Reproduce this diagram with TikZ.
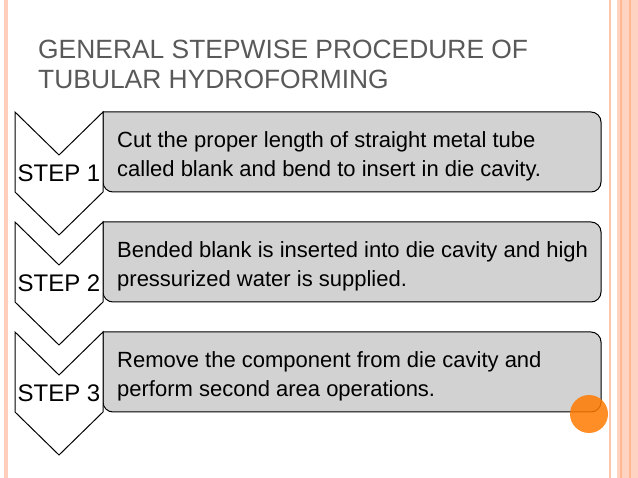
\documentclass[tikz,border=0pt]{standalone}
\usepackage{fontspec}
\setmainfont{Liberation Sans}
\begin{document}
\begin{tikzpicture}[x=1pt,y=-1pt,
  chev/.style={draw=black,fill=white,line width=1pt,line join=miter},
  boxs/.style={draw=black,fill=gray!35,line width=1pt},
  steptxt/.style={font=\fontsize{24}{28}\selectfont,inner sep=0},
  boxtxt/.style={font=\fontsize{22}{29}\selectfont,align=left,anchor=west,inner sep=0}]
\useasboundingbox (0,0) rectangle (638,478);
\fill[white] (0,0) rectangle (638,478);
% borders
\fill[orange!25!pink!60] (4,0) rectangle (8,478);
\fill[orange!30!pink!70] (609,0) rectangle (611,478);
\fill[orange!25!pink!55] (617,0) rectangle (638,478);
\fill[orange!40!pink!80] (620,0) rectangle (622,478);
\fill[orange!40!pink!80] (629,0) rectangle (631,478);
% title
\node[anchor=west,inner sep=0,text=black!65,font=\fontsize{26.4}{30}\selectfont,align=left] (title) at (38,64) {GENERAL STEPWISE PROCEDURE OF\\TUBULAR HYDROFORMING};
\foreach \i/\t/\l/\m in {0/1/{Cut the proper length of straight metal tube}/{called blank and bend to insert in die cavity.},
                        1/2/{Bended blank is inserted into die cavity and high}/{pressurized water is supplied.},
                        2/3/{Remove the component from die cavity and}/{perform second area operations.}}{
  \pgfmathsetmacro{\y}{112+110*\i}
  \draw[boxs,rounded corners=10pt] (103,\y) -- (601,\y) -- (601,\y+80) -- (103,\y+80) [sharp corners] -- cycle;
  \draw[chev] (15,\y) -- (59,\y+43) -- (103,\y) -- (103,\y+80) -- (59,\y+123) -- (15,\y+80) -- cycle;
  \node[steptxt] (s\t) at (59,\y+61) {STEP \t};
  \node[boxtxt] (b\t) at (117,\y+44) {\l\\\m};
}
\fill[orange!85!red!90!yellow,opacity=0.85] (589,414) circle (19);
\end{tikzpicture}
\end{document}
